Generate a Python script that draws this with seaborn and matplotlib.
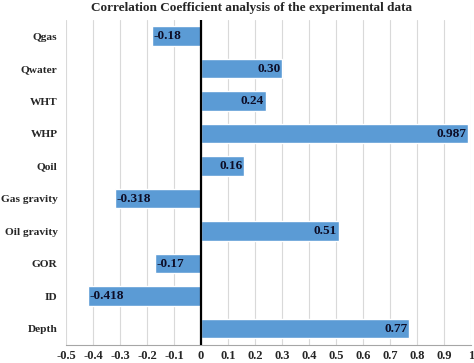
import matplotlib
matplotlib.use("Agg")
import matplotlib.pyplot as plt
import numpy as np
import pandas as pd
import seaborn as sns

# Data
params = ["Qgas", "Qwater", "WHT", "WHP", "Qoil", "Gas gravity",
          "Oil gravity", "GOR", "ID", "Depth"]
coeffs = [-0.18, 0.30, 0.24, 0.987, 0.16, -0.318, 0.51, -0.17, -0.418, 0.77]
value_labels = ["-0.18", "0.30", "0.24", "0.987", "0.16", "-0.318",
                "0.51", "-0.17", "-0.418", "0.77"]
x_ticks = [-0.5, -0.4, -0.3, -0.2, -0.1, 0, 0.1, 0.2, 0.3, 0.4, 0.5,
           0.6, 0.7, 0.8, 0.9, 1]

df = pd.DataFrame({"param": params, "coeff": coeffs})

sns.set_style("white")
plt.rcParams["font.family"] = ["Liberation Serif", "DejaVu Serif"]
plt.rcParams["font.weight"] = "bold"

fig = plt.figure(figsize=(4.74, 3.63), dpi=100)
ax = fig.add_axes([0.139, 0.05, 0.855, 0.895])

sns.barplot(data=df, x="coeff", y="param", orient="h", color="#5B9BD5",
            saturation=1, width=0.6, ax=ax, zorder=3)

ax.set_xlim(-0.5, 1.0)
ax.set_xticks(x_ticks)
ax.set_xticklabels([f"{v:g}" for v in x_ticks], fontsize=9, fontweight="bold")
ax.tick_params(axis="y", labelsize=8.2, length=0, pad=6)
for lbl in ax.get_yticklabels():
    lbl.set_fontweight("bold")
ax.tick_params(axis="x", length=0, pad=4)

ax.grid(axis="x", color="#D9D9D9", linewidth=0.8, zorder=0)
ax.axvline(0, color="black", linewidth=1.6, zorder=4)

for s in ["top", "right", "left"]:
    ax.spines[s].set_visible(False)
ax.spines["bottom"].set_color("#A6A6A6")
ax.spines["bottom"].set_linewidth(0.8)

ax.set_xlabel("")
ax.set_ylabel("")

for i, (v, t) in enumerate(zip(coeffs, value_labels)):
    if v >= 0:
        ax.text(v - 0.006, i, t, ha="right", va="center", fontsize=9.5,
                fontweight="bold", color="#0D0D26", zorder=5)
    else:
        ax.text(v + 0.004, i, t, ha="left", va="center", fontsize=9.5,
                fontweight="bold", color="#0D0D26", zorder=5)

fig.suptitle("Correlation Coefficient analysis of the experimental data",
             x=0.53, y=0.995, fontsize=9.5, fontweight="bold")

fig.savefig("out.png", dpi=100)
